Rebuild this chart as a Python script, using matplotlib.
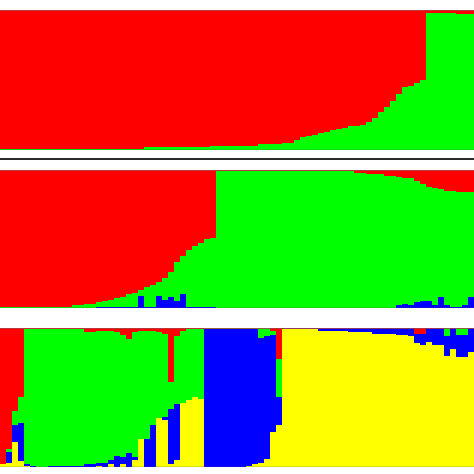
import matplotlib
matplotlib.use("Agg")
import matplotlib.pyplot as plt
from matplotlib.lines import Line2D
import numpy as np

RED, GREEN, BLUE, YELLOW = "#ff0000", "#00ff00", "#0000ff", "#ffff00"

# Panel 1 (K=2): green share per individual, red is the rest
p1_green = [.01, .01, .01, .01, .01, .01, .01, .01, .01, .01,
            .01, .01, .01, .01, .01, .01, .01, .01, .01, .01,
            .01, .01, .01, .01, .02, .02, .02, .02, .02, .02,
            .02, .02, .02, .02, .02, .03, .03, .03, .03, .03,
            .03, .03, .03, .04, .04, .04, .04, .05, .05,
            .07, .09, .10, .11, .12, .13, .14, .15, .16, .17, .17,
            .18, .20, .23, .27, .31, .35, .40, .45, .46, .48, .50,
            .98, .98, .98, .98, .98, .97, .97, .97]

# Panel 2 (K=3): blue (bottom), green, red (top)
p2_blue = [0, 0, 0, 0, 0, 0, 0, 0, 0, 0,
           0, 0, 0, 0, 0, 0, .01, .01, .01, .01, .01, .01, .01,
           .09, .01, .01, .09, .06, .08, .05, .10, .01, .01, .01, .01, .01,
           0, 0, 0, 0, 0, 0, 0, 0, 0, 0,
           0, 0, 0, 0, 0, 0, 0, 0, 0, 0,
           0, 0, 0, 0, 0, 0, 0, 0, 0, 0,
           .02, .03, .02, .04, .05, .05, .02, .08, .02, .01, .01, .02, .08]
p2_bound = [.01, .01, .01, .01, .01, .01, .01, .01, .01, .01,
            .01, .01, .02, .02, .03, .03, .04,
            .05, .06, .07, .08, .10, .11,
            .13, .15, .17, .19, .22, .26, .33,
            .38, .42, .45, .47, .50, .51]
p2_red_tail = [.01] * 0 + [.01, .01, .01, .01, .01, .01, .01, .01, .01, .01,
                           .01, .01, .01, .01, .01, .01, .01, .01, .01, .01,
                           .01, .01, .01,
                           .02, .02, .03, .03, .03, .04, .04,
                           .05, .06, .06, .08, .10, .12,
                           .13, .14, .15, .15, .16, .16, .16]

# Panel 3 (K=4): yellow (bottom), blue, green, red (top)
p3_blue = [0, .08, .12, .28,
           .01, .01, 0, 0, .01, .01, .01, .01, .01, .01,
           .02, .02, .02, .03, .03, .08, .05, .10, .02, 0,
           .20, .30, 0, .02, .40, .40, 0, 0, 0, 0,
           .99, .99, .99, .99, .99, .99, .99, .98, .97, .90, .88, .70, .20,
           .01, .01, .01, .01, .01, .01, .02, .02, .02, .02,
           .02, .03, .03, .03, .03, .04, .04, .04,
           .04, .05, .05, .06, .07, .08,
           .10, .12, .12, .14, .15, .16, .16, .17]
p3_yellow = [.02, .03, .18, .04,
             .01, 0, 0, 0, 0, 0, 0, 0, 0, 0,
             0, 0, .01, 0, .02, 0, .02, 0, .05, .20,
             0, 0, .35, .34, .02, .05, .46, .48, .50, .49,
             0, 0, 0, 0, 0, 0, 0, .01, .02, .03, .06, .25, .30]
p3_red = [.98, .87, .60, .50,
          .01, .01, .01, .01, .01, .01, .01, .01, .01, .01,
          .03, .03, .02, .02, .02, .03, .05, .08, .03, .02,
          .02, .02, .03, .04, .39, .06, .02, .01, .01, .01,
          0, 0, 0, 0, 0, 0, 0, 0, 0, 0, 0, .02, .22,
          0, 0, 0, 0, 0, 0, 0, 0, 0, 0,
          0, 0, 0, 0, 0, 0, 0, 0,
          0, 0, 0, 0, .04, .04,
          0, 0, 0, 0, 0, 0, 0, 0]
p3_green_tail = [0, 0, 0, .06, 0, .05, .05, 0]

n = len(p1_green)
x = np.arange(n)

g1 = np.array(p1_green)
b2 = np.array(p2_blue)
bound = np.array(p2_bound + [0] * (n - len(p2_bound)))
r2 = np.zeros(n)
r2[len(p2_bound):] = p2_red_tail
r2[:len(p2_bound)] = 1 - bound[:len(p2_bound)]
g2 = 1 - b2 - r2

b3 = np.array(p3_blue)
r3 = np.array(p3_red)
y3 = np.zeros(n)
y3[:len(p3_yellow)] = p3_yellow
g3 = np.zeros(n)
g3[n - len(p3_green_tail):] = p3_green_tail
y3[len(p3_yellow):] = 1 - b3[len(p3_yellow):] - r3[len(p3_yellow):] - g3[len(p3_yellow):]
g3[:len(p3_yellow)] = 1 - y3[:len(p3_yellow)] - b3[:len(p3_yellow)] - r3[:len(p3_yellow)]
g3 = np.clip(g3, 0, 1)

fig = plt.figure(figsize=(4.74, 4.74), dpi=100)
rects = [(0, 0.6835, 1, 0.2954), (0, 0.3502, 1, 0.2911), (0, 0.0148, 1, 0.2932)]
panels = [
    [(g1, GREEN), (1 - g1, RED)],
    [(b2, BLUE), (g2, GREEN), (r2, RED)],
    [(y3, YELLOW), (b3, BLUE), (g3, GREEN), (r3, RED)],
]

for rect, layers in zip(rects, panels):
    ax = fig.add_axes(rect)
    bottom = np.zeros(n)
    for vals, col in layers:
        ax.bar(x, vals, bottom=bottom, width=1.0, color=col, linewidth=0)
        bottom = bottom + vals
    ax.set_xlim(-0.5, n - 0.5)
    ax.set_ylim(0, 1)
    ax.set_xticks([])
    ax.set_yticks([])
    for s in ax.spines.values():
        s.set_visible(False)
    ax.axhline(0, color="#555555", linewidth=1)
    ax.axhline(1, color="#aa4444", linewidth=0.6)

# separator line between the first two panels
fig.add_artist(Line2D([0, 1], [1 - 159 / 474] * 2, color="black", linewidth=1.2))

fig.savefig("out.png", dpi=100)
